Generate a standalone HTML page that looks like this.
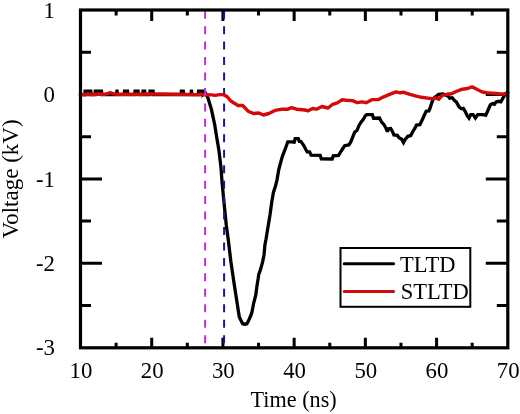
<!DOCTYPE html>
<html><head><meta charset="utf-8"><style>
html,body{margin:0;padding:0;background:#fff;}
svg{display:block;}
text{font-family:"Liberation Serif","Times New Roman",serif;font-size:22px;fill:#000;}
</style></head><body>
<svg width="520" height="414" viewBox="0 0 520 414">
<rect width="520" height="414" fill="#fff"/>
<path d="M151.72,347.80V337.80M151.72,10.00V21.00M222.93,347.80V337.80M222.93,10.00V21.00M294.15,347.80V337.80M294.15,10.00V21.00M365.37,347.80V337.80M365.37,10.00V21.00M436.58,347.80V337.80M436.58,10.00V21.00M116.11,347.80V342.80M116.11,10.00V15.50M187.32,347.80V342.80M187.32,10.00V15.50M258.54,347.80V342.80M258.54,10.00V15.50M329.76,347.80V342.80M329.76,10.00V15.50M400.98,347.80V342.80M400.98,10.00V15.50M472.19,347.80V342.80M472.19,10.00V15.50M80.50,94.45H102.00M507.80,94.45H485.80M80.50,178.90H102.00M507.80,178.90H485.80M80.50,263.35H102.00M507.80,263.35H485.80M80.50,52.23H91.00M507.80,52.23H496.80M80.50,136.68H91.00M507.80,136.68H496.80M80.50,221.12H91.00M507.80,221.12H496.80M80.50,305.57H91.00M507.80,305.57H496.80" stroke="#000" stroke-width="3" fill="none"/>
<polyline points="80.5,94.6 84.8,94.6 85.1,91.2 90.8,91.2 91.1,94.6 95.0,94.6 95.3,91.2 101.5,91.2 101.8,94.6 116.6,94.6 116.9,91.2 117.0,91.2 117.3,94.6 124.2,94.6 124.5,91.2 127.5,91.2 127.8,94.6 134.7,94.6 135.0,91.2 138.1,91.2 138.4,94.6 142.7,94.6 143.0,91.2 144.7,91.2 145.0,94.6 149.7,94.6 150.0,91.2 153.1,91.2 153.4,94.6 181.1,94.6 181.4,91.2 183.3,91.2 183.6,94.6 191.0,94.6 191.3,91.2 191.6,91.2 191.9,94.6 198.2,94.6 198.5,91.2 202.7,91.2 203.0,94.6 205.2,92.6 208.0,98.0 211.3,108.9 214.6,124.1 216.7,137.2 218.9,150.2 221.0,167.6 222.0,181.7 224.1,203.5 226.3,225.2 228.3,240.0 230.9,261.7 234.1,283.5 237.2,303.5 238.5,311.9 239.3,317.0 241.0,320.4 242.7,323.7 244.8,324.2 246.9,323.7 248.6,320.4 250.5,316.3 251.8,312.7 253.7,303.0 255.8,295.0 256.8,287.0 258.2,278.2 258.7,274.4 259.7,272.0 261.1,267.6 262.6,261.8 264.0,255.0 264.9,245.0 266.0,239.3 268.7,222.8 270.0,215.0 271.8,201.8 273.4,192.4 275.5,186.1 277.0,179.8 278.6,170.4 280.1,164.5 281.5,159.4 282.4,156.3 283.7,152.9 285.1,149.5 286.4,145.8 287.8,141.8 291.5,141.8 294.2,142.1 295.2,138.7 298.3,138.7 299.3,141.4 301.0,141.5 303.8,145.6 305.8,149.5 307.2,151.9 309.6,151.9 311.1,155.2 320.2,155.4 321.3,158.8 332.2,159.0 333.2,155.8 338.5,155.4 340.4,152.3 342.8,148.5 344.7,145.7 348.8,145.0 350.8,141.9 352.7,137.1 354.6,132.3 357.1,130.3 359.0,125.5 361.4,121.6 363.4,119.2 365.3,115.8 366.7,114.6 372.3,114.6 373.6,118.2 379.4,118.0 381.6,122.0 383.8,124.5 385.6,127.4 387.4,131.7 388.5,128.8 390.7,128.5 392.5,131.7 393.9,135.0 397.5,135.4 398.8,137.5 400.0,138.3 401.5,139.0 403.5,142.6 405.4,139.3 407.9,136.3 410.8,135.5 412.7,131.7 415.1,127.9 416.5,125.0 419.9,124.6 422.3,119.7 424.3,115.3 426.2,111.2 428.8,110.9 430.2,107.8 431.5,103.6 432.8,100.2 434.4,97.7 438.7,94.3 442.9,93.9 448.0,96.0 449.7,98.1 452.2,97.7 454.5,100.5 456.3,101.9 459.2,107.1 461.5,108.8 463.3,108.3 465.0,111.1 467.3,115.8 469.0,118.1 470.8,114.6 473.1,114.6 475.4,118.1 477.7,114.6 482.3,114.6 485.8,115.2 488.1,110.0 490.4,104.8 492.7,103.6 494.4,104.2 496.1,101.9 498.4,101.3 500.8,101.9 503.1,97.9 505.4,93.8 507.5,92.5" fill="none" stroke="#000" stroke-width="3.3" stroke-linejoin="miter" stroke-miterlimit="2.5" stroke-linecap="square"/>
<path d="M224.1,10.7V346.8" stroke="#1c1490" stroke-width="2" stroke-dasharray="8 7.45"/>
<polyline points="80.5,94.8 90.0,94.5 100.0,94.3 105.5,94.2 108.3,93.3 110.3,92.7 112.3,93.3 115.5,94.2 130.0,94.2 140.0,94.3 150.0,94.0 160.0,94.0 180.0,94.2 195.0,94.6 205.0,94.7 212.0,94.9 215.0,95.4 219.6,94.6 223.0,94.6 225.0,95.3 227.5,97.0 229.7,99.7 231.2,101.2 238.1,105.5 242.7,105.5 248.1,111.2 253.5,113.5 258.8,113.0 263.5,115.0 268.8,113.5 275.0,110.4 281.2,109.3 287.3,109.3 291.5,107.6 296.5,109.2 305.0,110.0 308.1,110.8 312.7,108.5 316.5,109.2 321.9,106.5 328.1,108.0 332.7,104.3 337.3,102.8 341.9,99.8 346.5,100.3 352.7,100.6 357.3,102.7 361.9,101.9 366.2,102.7 372.3,99.6 378.5,99.6 383.1,97.1 390.8,93.9 396.2,91.9 400.0,92.8 403.8,92.3 409.2,94.1 415.4,95.8 421.5,97.3 427.7,98.1 432.3,98.8 435.4,97.8 438.7,99.3 442.3,95.4 446.9,94.3 451.5,93.8 456.2,91.5 462.3,89.2 467.7,88.5 471.9,86.9 474.8,88.1 477.7,89.8 482.3,92.0 486.9,92.7 491.5,93.1 496.1,93.5 500.8,94.0 504.2,94.0 507.5,93.0" fill="none" stroke="#d20a0a" stroke-width="3.4" stroke-linejoin="round" stroke-linecap="round"/>
<path d="M205.1,10.7V346.8" stroke="#c030d8" stroke-width="2" stroke-dasharray="8 7.45"/>
<rect x="80.5" y="10.0" width="427.30" height="337.80" fill="none" stroke="#000" stroke-width="3.2"/>
<text transform="translate(80.90,378.30) scale(1,1.0)" style="font-size:22.8px" text-anchor="middle">10</text><text transform="translate(152.12,378.30) scale(1,1.0)" style="font-size:22.8px" text-anchor="middle">20</text><text transform="translate(223.33,378.30) scale(1,1.0)" style="font-size:22.8px" text-anchor="middle">30</text><text transform="translate(294.55,378.30) scale(1,1.0)" style="font-size:22.8px" text-anchor="middle">40</text><text transform="translate(365.77,378.30) scale(1,1.0)" style="font-size:22.8px" text-anchor="middle">50</text><text transform="translate(436.98,378.30) scale(1,1.0)" style="font-size:22.8px" text-anchor="middle">60</text><text transform="translate(508.20,378.30) scale(1,1.0)" style="font-size:22.8px" text-anchor="middle">70</text>
<text transform="translate(55.00,17.60) scale(1,1.0)" style="font-size:22.8px" text-anchor="end">1</text><text transform="translate(55.00,102.05) scale(1,1.0)" style="font-size:22.8px" text-anchor="end">0</text><text transform="translate(55.00,186.50) scale(1,1.0)" style="font-size:22.8px" text-anchor="end">-1</text><text transform="translate(55.00,270.95) scale(1,1.0)" style="font-size:22.8px" text-anchor="end">-2</text><text transform="translate(55.00,355.40) scale(1,1.0)" style="font-size:22.8px" text-anchor="end">-3</text>
<text transform="translate(293.60,407.10) scale(1,1.0)" style="font-size:22.2px" text-anchor="middle">Time (ns)</text>
<text transform="translate(18.00,178.90) rotate(-90) scale(1,1.0)" style="font-size:23.0px" text-anchor="middle">Voltage (kV)</text>
<rect x="340.5" y="248" width="129.8" height="58.8" fill="#fff" stroke="#000" stroke-width="2"/>
<path d="M344.2,263.8H393.6" stroke="#000" stroke-width="3" stroke-linecap="round"/>
<path d="M344.2,291.5H393.6" stroke="#d20a0a" stroke-width="3" stroke-linecap="round"/>
<text transform="translate(400.00,271.60) scale(1,1.0)" style="font-size:22.5px">TLTD</text>
<text transform="translate(400.80,299.00) scale(1,1.0)" style="font-size:22.5px">STLTD</text>
</svg>
</body></html>
